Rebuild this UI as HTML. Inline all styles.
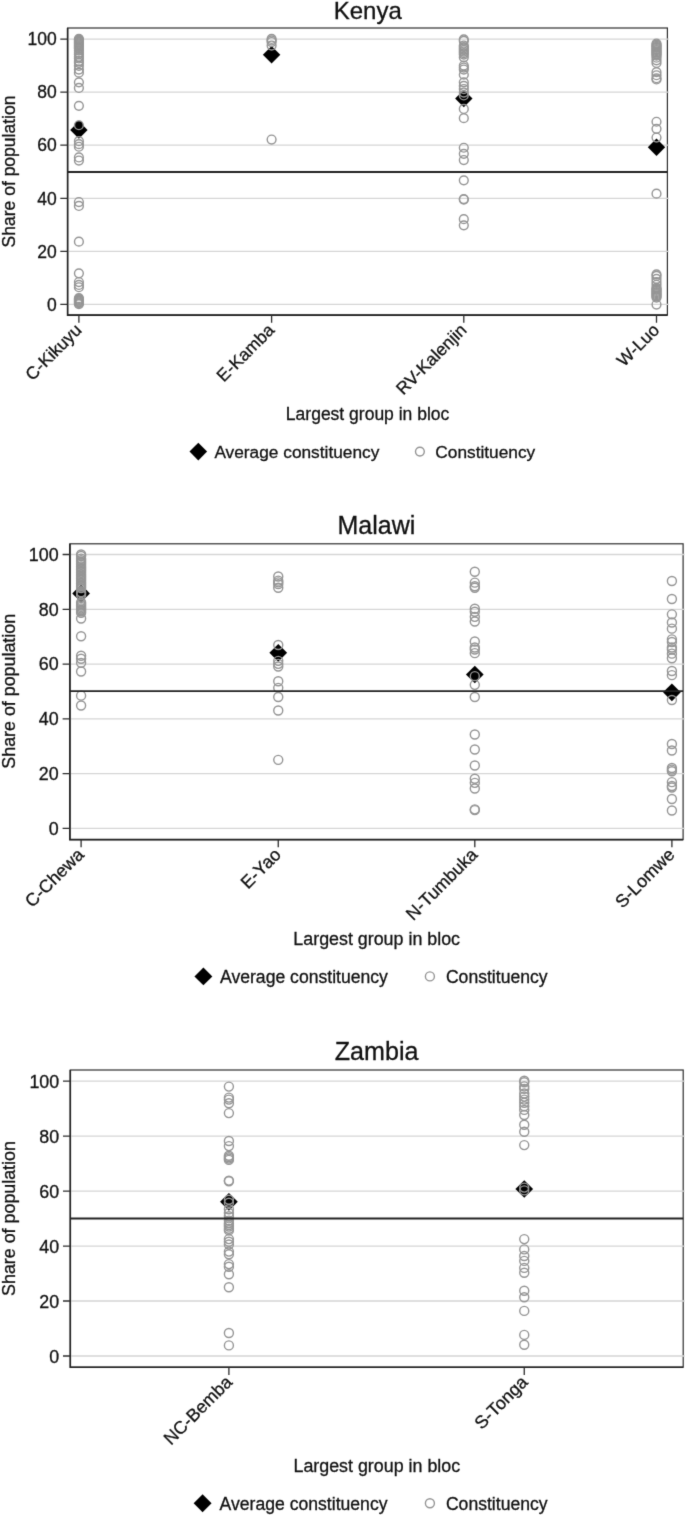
<!DOCTYPE html>
<html lang="en">
<head>
<meta charset="utf-8">
<title>Share of population by largest group in bloc</title>
<style>
html,body{margin:0;padding:0;background:#fff;}
body{width:685px;height:1515px;overflow:hidden;}
svg{display:block;}
text{white-space:pre;stroke:#111111;stroke-width:.3px;}
</style>
</head>
<body>
<svg width="685" height="1515" viewBox="0 0 685 1515" font-family="&quot;Liberation Sans&quot;, sans-serif" fill="#111111">
<rect width="685" height="1515" fill="#fff"/>
<defs><filter id="soft" x="0" y="0" width="100%" height="100%" filterUnits="userSpaceOnUse" color-interpolation-filters="sRGB"><feConvolveMatrix order="3" kernelMatrix="0.0183 0.1353 0.0183 0.1353 1.0000 0.1353 0.0183 0.1353 0.0183" edgeMode="duplicate" preserveAlpha="true"/></filter></defs>
<g filter="url(#soft)">
<rect width="685" height="1515" fill="#fff"/>
<g class="chart">
<text x="367.8" y="18.8" font-size="24" text-anchor="middle">Kenya</text>
<rect x="67.6" y="28.0" width="599.80" height="287.10" fill="none" stroke="#2e2e2e" stroke-width="1.2"/>
<path d="M68.60 304.40H668.90M68.60 251.34H668.90M68.60 198.28H668.90M68.60 145.22H668.90M68.60 92.16H668.90M68.60 39.10H668.90" stroke="#d5d5d5" stroke-width="1.3" fill="none"/>
<path d="M67.6 28.0V315.1H667.4" stroke="#222" stroke-width="1.6" fill="none"/>
<path d="M60.30 304.40H67.60M60.30 251.34H67.60M60.30 198.28H67.60M60.30 145.22H67.60M60.30 92.16H67.60M60.30 39.10H67.60M78.90 315.10V322.80M271.60 315.10V322.80M463.80 315.10V322.80M656.50 315.10V322.80" stroke="#2e2e2e" stroke-width="1.3" fill="none"/>
<text x="56.8" y="310.66" font-size="17.5" text-anchor="end">0</text>
<text x="56.8" y="257.60" font-size="17.5" text-anchor="end">20</text>
<text x="56.8" y="204.54" font-size="17.5" text-anchor="end">40</text>
<text x="56.8" y="151.48" font-size="17.5" text-anchor="end">60</text>
<text x="56.8" y="98.43" font-size="17.5" text-anchor="end">80</text>
<text x="56.8" y="45.37" font-size="17.5" text-anchor="end">100</text>
<text transform="translate(14.8 171.5) rotate(-90)" font-size="17.5" text-anchor="middle">Share of population</text>
<path d="M78.90 121.30L87.60 130.00L78.90 138.70L70.20 130.00Z" fill="#000"/>
<path d="M271.60 46.10L280.30 54.80L271.60 63.50L262.90 54.80Z" fill="#000"/>
<path d="M463.80 89.90L472.50 98.60L463.80 107.30L455.10 98.60Z" fill="#000"/>
<path d="M656.50 138.50L665.20 147.20L656.50 155.90L647.80 147.20Z" fill="#000"/>
<g stroke="#959595" stroke-width="1.4">
<circle cx="78.90" cy="38.95" r="4.4" fill="none"/>
<circle cx="78.90" cy="39.85" r="4.4" fill="none"/>
<circle cx="78.90" cy="40.75" r="4.4" fill="none"/>
<circle cx="78.90" cy="41.65" r="4.4" fill="none"/>
<circle cx="78.90" cy="42.55" r="4.4" fill="none"/>
<circle cx="78.90" cy="43.45" r="4.4" fill="none"/>
<circle cx="78.90" cy="44.35" r="4.4" fill="none"/>
<circle cx="78.90" cy="45.25" r="4.4" fill="none"/>
<circle cx="78.90" cy="46.15" r="4.4" fill="none"/>
<circle cx="78.90" cy="47.05" r="4.4" fill="none"/>
<circle cx="78.90" cy="47.95" r="4.4" fill="none"/>
<circle cx="78.90" cy="48.85" r="4.4" fill="none"/>
<circle cx="78.90" cy="50.65" r="4.4" fill="none"/>
<circle cx="78.90" cy="52.85" r="4.4" fill="none"/>
<circle cx="78.90" cy="54.45" r="4.4" fill="none"/>
<circle cx="78.90" cy="56.85" r="4.4" fill="none"/>
<circle cx="78.90" cy="58.45" r="4.4" fill="none"/>
<circle cx="78.90" cy="61.05" r="4.4" fill="none"/>
<circle cx="78.90" cy="62.85" r="4.4" fill="none"/>
<circle cx="78.90" cy="65.85" r="4.4" fill="none"/>
<circle cx="78.90" cy="69.55" r="4.4" fill="none"/>
<circle cx="78.90" cy="72.65" r="4.4" fill="none"/>
<circle cx="78.90" cy="82.35" r="4.4" fill="none"/>
<circle cx="78.90" cy="87.95" r="4.4" fill="none"/>
<circle cx="78.90" cy="105.85" r="4.4" fill="none"/>
<circle cx="78.90" cy="141.15" r="4.4" fill="none"/>
<circle cx="78.90" cy="144.15" r="4.4" fill="none"/>
<circle cx="78.90" cy="146.75" r="4.4" fill="none"/>
<circle cx="78.90" cy="157.45" r="4.4" fill="none"/>
<circle cx="78.90" cy="160.55" r="4.4" fill="none"/>
<circle cx="78.90" cy="202.05" r="4.4" fill="none"/>
<circle cx="78.90" cy="205.95" r="4.4" fill="none"/>
<circle cx="78.90" cy="241.65" r="4.4" fill="none"/>
<circle cx="78.90" cy="273.35" r="4.4" fill="none"/>
<circle cx="78.90" cy="282.05" r="4.4" fill="none"/>
<circle cx="78.90" cy="284.95" r="4.4" fill="none"/>
<circle cx="78.90" cy="287.25" r="4.4" fill="none"/>
<circle cx="78.90" cy="298.15" r="4.4" fill="none"/>
<circle cx="78.90" cy="299.00" r="4.4" fill="none"/>
<circle cx="78.90" cy="299.85" r="4.4" fill="none"/>
<circle cx="78.90" cy="300.70" r="4.4" fill="none"/>
<circle cx="78.90" cy="301.55" r="4.4" fill="none"/>
<circle cx="78.90" cy="302.40" r="4.4" fill="none"/>
<circle cx="78.90" cy="303.25" r="4.4" fill="none"/>
<circle cx="78.90" cy="304.10" r="4.4" fill="none"/>
<circle cx="271.60" cy="38.95" r="4.4" fill="none"/>
<circle cx="271.60" cy="40.45" r="4.4" fill="none"/>
<circle cx="271.60" cy="42.05" r="4.4" fill="none"/>
<circle cx="271.60" cy="45.55" r="4.4" fill="none"/>
<circle cx="271.60" cy="139.55" r="4.4" fill="none"/>
<circle cx="463.80" cy="39.45" r="4.4" fill="none"/>
<circle cx="463.80" cy="40.95" r="4.4" fill="none"/>
<circle cx="463.80" cy="45.55" r="4.4" fill="none"/>
<circle cx="463.80" cy="47.05" r="4.4" fill="none"/>
<circle cx="463.80" cy="48.55" r="4.4" fill="none"/>
<circle cx="463.80" cy="50.05" r="4.4" fill="none"/>
<circle cx="463.80" cy="51.55" r="4.4" fill="none"/>
<circle cx="463.80" cy="53.05" r="4.4" fill="none"/>
<circle cx="463.80" cy="54.55" r="4.4" fill="none"/>
<circle cx="463.80" cy="57.35" r="4.4" fill="none"/>
<circle cx="463.80" cy="65.55" r="4.4" fill="none"/>
<circle cx="463.80" cy="67.55" r="4.4" fill="none"/>
<circle cx="463.80" cy="69.55" r="4.4" fill="none"/>
<circle cx="463.80" cy="74.75" r="4.4" fill="none"/>
<circle cx="463.80" cy="82.35" r="4.4" fill="none"/>
<circle cx="463.80" cy="85.95" r="4.4" fill="none"/>
<circle cx="463.80" cy="89.05" r="4.4" fill="none"/>
<circle cx="463.80" cy="92.55" r="4.4" fill="none"/>
<circle cx="463.80" cy="95.45" r="4.4" fill="none"/>
<circle cx="463.80" cy="108.95" r="4.4" fill="none"/>
<circle cx="463.80" cy="118.15" r="4.4" fill="none"/>
<circle cx="463.80" cy="147.75" r="4.4" fill="none"/>
<circle cx="463.80" cy="153.85" r="4.4" fill="none"/>
<circle cx="463.80" cy="160.05" r="4.4" fill="none"/>
<circle cx="463.80" cy="180.35" r="4.4" fill="none"/>
<circle cx="463.80" cy="199.05" r="4.4" fill="none"/>
<circle cx="463.80" cy="199.55" r="4.4" fill="none"/>
<circle cx="463.80" cy="219.15" r="4.4" fill="none"/>
<circle cx="463.80" cy="225.35" r="4.4" fill="none"/>
<circle cx="656.50" cy="43.55" r="4.4" fill="none"/>
<circle cx="656.50" cy="44.65" r="4.4" fill="none"/>
<circle cx="656.50" cy="45.75" r="4.4" fill="none"/>
<circle cx="656.50" cy="46.85" r="4.4" fill="none"/>
<circle cx="656.50" cy="47.95" r="4.4" fill="none"/>
<circle cx="656.50" cy="49.05" r="4.4" fill="none"/>
<circle cx="656.50" cy="50.15" r="4.4" fill="none"/>
<circle cx="656.50" cy="51.25" r="4.4" fill="none"/>
<circle cx="656.50" cy="52.35" r="4.4" fill="none"/>
<circle cx="656.50" cy="53.45" r="4.4" fill="none"/>
<circle cx="656.50" cy="54.55" r="4.4" fill="none"/>
<circle cx="656.50" cy="55.65" r="4.4" fill="none"/>
<circle cx="656.50" cy="57.75" r="4.4" fill="none"/>
<circle cx="656.50" cy="60.35" r="4.4" fill="none"/>
<circle cx="656.50" cy="62.95" r="4.4" fill="none"/>
<circle cx="656.50" cy="72.15" r="4.4" fill="none"/>
<circle cx="656.50" cy="75.25" r="4.4" fill="none"/>
<circle cx="656.50" cy="78.25" r="4.4" fill="none"/>
<circle cx="656.50" cy="79.45" r="4.4" fill="none"/>
<circle cx="656.50" cy="121.75" r="4.4" fill="none"/>
<circle cx="656.50" cy="128.85" r="4.4" fill="none"/>
<circle cx="656.50" cy="137.55" r="4.4" fill="none"/>
<circle cx="656.50" cy="193.65" r="4.4" fill="none"/>
<circle cx="656.50" cy="274.35" r="4.4" fill="none"/>
<circle cx="656.50" cy="275.95" r="4.4" fill="none"/>
<circle cx="656.50" cy="278.95" r="4.4" fill="none"/>
<circle cx="656.50" cy="282.05" r="4.4" fill="none"/>
<circle cx="656.50" cy="284.75" r="4.4" fill="none"/>
<circle cx="656.50" cy="287.65" r="4.4" fill="none"/>
<circle cx="656.50" cy="288.75" r="4.4" fill="none"/>
<circle cx="656.50" cy="289.85" r="4.4" fill="none"/>
<circle cx="656.50" cy="290.95" r="4.4" fill="none"/>
<circle cx="656.50" cy="292.05" r="4.4" fill="none"/>
<circle cx="656.50" cy="293.15" r="4.4" fill="none"/>
<circle cx="656.50" cy="294.25" r="4.4" fill="none"/>
<circle cx="656.50" cy="295.35" r="4.4" fill="none"/>
<circle cx="656.50" cy="296.45" r="4.4" fill="none"/>
<circle cx="656.50" cy="297.55" r="4.4" fill="none"/>
<circle cx="656.50" cy="304.55" r="4.4" fill="none"/>
</g>
<path d="M67.6 172.00H667.4" stroke="#222" stroke-width="1.9" fill="none"/>
<g stroke="#959595" stroke-width="1.4">
<circle cx="78.90" cy="125.25" r="4.4" fill="#000"/>
</g>
<text transform="translate(82.70 331.20) rotate(-45)" font-size="17.5" text-anchor="end">C-Kikuyu</text>
<text transform="translate(275.40 331.20) rotate(-45)" font-size="17.5" text-anchor="end">E-Kamba</text>
<text transform="translate(467.60 331.20) rotate(-45)" font-size="17.5" text-anchor="end">RV-Kalenjin</text>
<text transform="translate(660.30 331.20) rotate(-45)" font-size="17.5" text-anchor="end">W-Luo</text>
<text x="367.6" y="420.4" font-size="17.5" text-anchor="middle">Largest group in bloc</text>
<path d="M198.30 442.80L207.10 451.60L198.30 460.40L189.50 451.60Z" fill="#000"/>
<text x="214.4" y="458.0" font-size="17.3">Average constituency</text>
<circle cx="419.9" cy="451.6" r="4.4" fill="none" stroke="#959595" stroke-width="1.4"/>
<text x="435.3" y="458.0" font-size="17.3">Constituency</text>
</g>
<g class="chart">
<text x="376.4" y="533.6" font-size="25.0" text-anchor="middle">Malawi</text>
<rect x="69.9" y="543.8" width="613.20" height="295.80" fill="none" stroke="#2e2e2e" stroke-width="1.2"/>
<path d="M70.90 828.40H684.60M70.90 773.62H684.60M70.90 718.84H684.60M70.90 664.06H684.60M70.90 609.28H684.60M70.90 554.50H684.60" stroke="#d5d5d5" stroke-width="1.3" fill="none"/>
<path d="M69.9 543.8V839.6H683.1" stroke="#222" stroke-width="1.6" fill="none"/>
<path d="M62.60 828.40H69.90M62.60 773.62H69.90M62.60 718.84H69.90M62.60 664.06H69.90M62.60 609.28H69.90M62.60 554.50H69.90M81.10 839.60V847.30M278.25 839.60V847.30M474.80 839.60V847.30M671.90 839.60V847.30" stroke="#2e2e2e" stroke-width="1.3" fill="none"/>
<text x="58.6" y="834.79" font-size="17.85" text-anchor="end">0</text>
<text x="58.6" y="780.01" font-size="17.85" text-anchor="end">20</text>
<text x="58.6" y="725.23" font-size="17.85" text-anchor="end">40</text>
<text x="58.6" y="670.45" font-size="17.85" text-anchor="end">60</text>
<text x="58.6" y="615.67" font-size="17.85" text-anchor="end">80</text>
<text x="58.6" y="560.89" font-size="17.85" text-anchor="end">100</text>
<text transform="translate(15.2 691.3) rotate(-90)" font-size="17.85" text-anchor="middle">Share of population</text>
<path d="M81.10 584.55L89.95 593.40L81.10 602.25L72.25 593.40Z" fill="#000"/>
<path d="M278.25 643.95L287.10 652.80L278.25 661.65L269.40 652.80Z" fill="#000"/>
<path d="M474.80 665.65L483.65 674.50L474.80 683.35L465.95 674.50Z" fill="#000"/>
<path d="M671.90 683.45L680.75 692.30L671.90 701.15L663.05 692.30Z" fill="#000"/>
<g stroke="#959595" stroke-width="1.4">
<circle cx="81.10" cy="554.55" r="4.5" fill="none"/>
<circle cx="81.10" cy="556.05" r="4.5" fill="none"/>
<circle cx="81.10" cy="558.65" r="4.5" fill="none"/>
<circle cx="81.10" cy="560.20" r="4.5" fill="none"/>
<circle cx="81.10" cy="561.75" r="4.5" fill="none"/>
<circle cx="81.10" cy="563.30" r="4.5" fill="none"/>
<circle cx="81.10" cy="564.85" r="4.5" fill="none"/>
<circle cx="81.10" cy="566.40" r="4.5" fill="none"/>
<circle cx="81.10" cy="567.95" r="4.5" fill="none"/>
<circle cx="81.10" cy="569.50" r="4.5" fill="none"/>
<circle cx="81.10" cy="571.05" r="4.5" fill="none"/>
<circle cx="81.10" cy="572.60" r="4.5" fill="none"/>
<circle cx="81.10" cy="574.15" r="4.5" fill="none"/>
<circle cx="81.10" cy="575.70" r="4.5" fill="none"/>
<circle cx="81.10" cy="577.25" r="4.5" fill="none"/>
<circle cx="81.10" cy="578.80" r="4.5" fill="none"/>
<circle cx="81.10" cy="580.35" r="4.5" fill="none"/>
<circle cx="81.10" cy="581.90" r="4.5" fill="none"/>
<circle cx="81.10" cy="583.45" r="4.5" fill="none"/>
<circle cx="81.10" cy="585.00" r="4.5" fill="none"/>
<circle cx="81.10" cy="586.55" r="4.5" fill="none"/>
<circle cx="81.10" cy="588.10" r="4.5" fill="none"/>
<circle cx="81.10" cy="592.15" r="4.5" fill="none"/>
<circle cx="81.10" cy="593.15" r="4.5" fill="none"/>
<circle cx="81.10" cy="594.95" r="4.5" fill="none"/>
<circle cx="81.10" cy="602.55" r="4.5" fill="none"/>
<circle cx="81.10" cy="604.00" r="4.5" fill="none"/>
<circle cx="81.10" cy="605.45" r="4.5" fill="none"/>
<circle cx="81.10" cy="606.90" r="4.5" fill="none"/>
<circle cx="81.10" cy="608.35" r="4.5" fill="none"/>
<circle cx="81.10" cy="609.80" r="4.5" fill="none"/>
<circle cx="81.10" cy="611.25" r="4.5" fill="none"/>
<circle cx="81.10" cy="612.70" r="4.5" fill="none"/>
<circle cx="81.10" cy="618.45" r="4.5" fill="none"/>
<circle cx="81.10" cy="636.25" r="4.5" fill="none"/>
<circle cx="81.10" cy="655.75" r="4.5" fill="none"/>
<circle cx="81.10" cy="658.75" r="4.5" fill="none"/>
<circle cx="81.10" cy="662.85" r="4.5" fill="none"/>
<circle cx="81.10" cy="671.55" r="4.5" fill="none"/>
<circle cx="81.10" cy="695.65" r="4.5" fill="none"/>
<circle cx="81.10" cy="705.55" r="4.5" fill="none"/>
<circle cx="278.25" cy="576.55" r="4.5" fill="none"/>
<circle cx="278.25" cy="580.65" r="4.5" fill="none"/>
<circle cx="278.25" cy="582.35" r="4.5" fill="none"/>
<circle cx="278.25" cy="584.15" r="4.5" fill="none"/>
<circle cx="278.25" cy="587.75" r="4.5" fill="none"/>
<circle cx="278.25" cy="644.95" r="4.5" fill="none"/>
<circle cx="278.25" cy="660.85" r="4.5" fill="none"/>
<circle cx="278.25" cy="663.85" r="4.5" fill="none"/>
<circle cx="278.25" cy="666.45" r="4.5" fill="none"/>
<circle cx="278.25" cy="681.25" r="4.5" fill="none"/>
<circle cx="278.25" cy="687.85" r="4.5" fill="none"/>
<circle cx="278.25" cy="696.95" r="4.5" fill="none"/>
<circle cx="278.25" cy="710.55" r="4.5" fill="none"/>
<circle cx="278.25" cy="759.85" r="4.5" fill="none"/>
<circle cx="474.80" cy="571.75" r="4.5" fill="none"/>
<circle cx="474.80" cy="582.65" r="4.5" fill="none"/>
<circle cx="474.80" cy="586.25" r="4.5" fill="none"/>
<circle cx="474.80" cy="587.75" r="4.5" fill="none"/>
<circle cx="474.80" cy="608.75" r="4.5" fill="none"/>
<circle cx="474.80" cy="611.75" r="4.5" fill="none"/>
<circle cx="474.80" cy="616.85" r="4.5" fill="none"/>
<circle cx="474.80" cy="621.45" r="4.5" fill="none"/>
<circle cx="474.80" cy="641.45" r="4.5" fill="none"/>
<circle cx="474.80" cy="647.55" r="4.5" fill="none"/>
<circle cx="474.80" cy="649.55" r="4.5" fill="none"/>
<circle cx="474.80" cy="653.15" r="4.5" fill="none"/>
<circle cx="474.80" cy="676.15" r="4.5" fill="none"/>
<circle cx="474.80" cy="684.85" r="4.5" fill="none"/>
<circle cx="474.80" cy="696.95" r="4.5" fill="none"/>
<circle cx="474.80" cy="734.45" r="4.5" fill="none"/>
<circle cx="474.80" cy="749.45" r="4.5" fill="none"/>
<circle cx="474.80" cy="765.45" r="4.5" fill="none"/>
<circle cx="474.80" cy="778.75" r="4.5" fill="none"/>
<circle cx="474.80" cy="782.85" r="4.5" fill="none"/>
<circle cx="474.80" cy="788.45" r="4.5" fill="none"/>
<circle cx="474.80" cy="809.35" r="4.5" fill="none"/>
<circle cx="474.80" cy="810.15" r="4.5" fill="none"/>
<circle cx="671.90" cy="580.95" r="4.5" fill="none"/>
<circle cx="671.90" cy="598.95" r="4.5" fill="none"/>
<circle cx="671.90" cy="614.35" r="4.5" fill="none"/>
<circle cx="671.90" cy="622.55" r="4.5" fill="none"/>
<circle cx="671.90" cy="628.65" r="4.5" fill="none"/>
<circle cx="671.90" cy="639.35" r="4.5" fill="none"/>
<circle cx="671.90" cy="641.95" r="4.5" fill="none"/>
<circle cx="671.90" cy="647.55" r="4.5" fill="none"/>
<circle cx="671.90" cy="649.55" r="4.5" fill="none"/>
<circle cx="671.90" cy="653.65" r="4.5" fill="none"/>
<circle cx="671.90" cy="658.25" r="4.5" fill="none"/>
<circle cx="671.90" cy="671.05" r="4.5" fill="none"/>
<circle cx="671.90" cy="675.15" r="4.5" fill="none"/>
<circle cx="671.90" cy="699.95" r="4.5" fill="none"/>
<circle cx="671.90" cy="744.05" r="4.5" fill="none"/>
<circle cx="671.90" cy="750.55" r="4.5" fill="none"/>
<circle cx="671.90" cy="767.95" r="4.5" fill="none"/>
<circle cx="671.90" cy="769.65" r="4.5" fill="none"/>
<circle cx="671.90" cy="771.25" r="4.5" fill="none"/>
<circle cx="671.90" cy="782.15" r="4.5" fill="none"/>
<circle cx="671.90" cy="785.95" r="4.5" fill="none"/>
<circle cx="671.90" cy="787.55" r="4.5" fill="none"/>
<circle cx="671.90" cy="799.05" r="4.5" fill="none"/>
<circle cx="671.90" cy="810.45" r="4.5" fill="none"/>
</g>
<path d="M69.9 691.10H683.1" stroke="#222" stroke-width="1.9" fill="none"/>
<g stroke="#959595" stroke-width="1.4">
</g>
<text transform="translate(84.90 855.70) rotate(-45)" font-size="17.85" text-anchor="end">C-Chewa</text>
<text transform="translate(282.05 855.70) rotate(-45)" font-size="17.85" text-anchor="end">E-Yao</text>
<text transform="translate(478.60 855.70) rotate(-45)" font-size="17.85" text-anchor="end">N-Tumbuka</text>
<text transform="translate(675.70 855.70) rotate(-45)" font-size="17.85" text-anchor="end">S-Lomwe</text>
<text x="376.7" y="944.8" font-size="17.85" text-anchor="middle">Largest group in bloc</text>
<path d="M203.40 967.45L212.35 976.40L203.40 985.35L194.45 976.40Z" fill="#000"/>
<text x="220.0" y="982.8" font-size="17.6">Average constituency</text>
<circle cx="429.9" cy="976.4" r="4.5" fill="none" stroke="#959595" stroke-width="1.4"/>
<text x="445.9" y="982.8" font-size="17.6">Constituency</text>
</g>
<g class="chart">
<text x="376.6" y="1060.0" font-size="25.1" text-anchor="middle">Zambia</text>
<rect x="70.3" y="1070.0" width="612.90" height="297.20" fill="none" stroke="#2e2e2e" stroke-width="1.2"/>
<path d="M71.30 1356.00H684.70M71.30 1301.02H684.70M71.30 1246.04H684.70M71.30 1191.06H684.70M71.30 1136.08H684.70M71.30 1081.10H684.70" stroke="#d5d5d5" stroke-width="1.3" fill="none"/>
<path d="M70.3 1070.0V1367.2H683.2" stroke="#222" stroke-width="1.6" fill="none"/>
<path d="M63.00 1356.00H70.30M63.00 1301.02H70.30M63.00 1246.04H70.30M63.00 1191.06H70.30M63.00 1136.08H70.30M63.00 1081.10H70.30M228.90 1367.20V1374.90M524.25 1367.20V1374.90" stroke="#2e2e2e" stroke-width="1.3" fill="none"/>
<text x="59.2" y="1362.89" font-size="17.85" text-anchor="end">0</text>
<text x="59.2" y="1307.91" font-size="17.85" text-anchor="end">20</text>
<text x="59.2" y="1252.93" font-size="17.85" text-anchor="end">40</text>
<text x="59.2" y="1197.95" font-size="17.85" text-anchor="end">60</text>
<text x="59.2" y="1142.97" font-size="17.85" text-anchor="end">80</text>
<text x="59.2" y="1087.99" font-size="17.85" text-anchor="end">100</text>
<text transform="translate(15.2 1218.5) rotate(-90)" font-size="17.85" text-anchor="middle">Share of population</text>
<path d="M228.90 1192.95L237.75 1201.80L228.90 1210.65L220.05 1201.80Z" fill="#000"/>
<path d="M524.25 1180.15L533.10 1189.00L524.25 1197.85L515.40 1189.00Z" fill="#000"/>
<g stroke="#959595" stroke-width="1.4">
<circle cx="228.90" cy="1086.60" r="4.5" fill="none"/>
<circle cx="228.90" cy="1097.60" r="4.5" fill="none"/>
<circle cx="228.90" cy="1099.60" r="4.5" fill="none"/>
<circle cx="228.90" cy="1103.20" r="4.5" fill="none"/>
<circle cx="228.90" cy="1113.10" r="4.5" fill="none"/>
<circle cx="228.90" cy="1141.00" r="4.5" fill="none"/>
<circle cx="228.90" cy="1146.10" r="4.5" fill="none"/>
<circle cx="228.90" cy="1155.80" r="4.5" fill="none"/>
<circle cx="228.90" cy="1157.20" r="4.5" fill="none"/>
<circle cx="228.90" cy="1158.60" r="4.5" fill="none"/>
<circle cx="228.90" cy="1159.90" r="4.5" fill="none"/>
<circle cx="228.90" cy="1180.60" r="4.5" fill="none"/>
<circle cx="228.90" cy="1181.20" r="4.5" fill="none"/>
<circle cx="228.90" cy="1199.80" r="4.5" fill="none"/>
<circle cx="228.90" cy="1202.80" r="4.5" fill="none"/>
<circle cx="228.90" cy="1209.20" r="4.5" fill="none"/>
<circle cx="228.90" cy="1213.00" r="4.5" fill="none"/>
<circle cx="228.90" cy="1216.20" r="4.5" fill="none"/>
<circle cx="228.90" cy="1220.60" r="4.5" fill="none"/>
<circle cx="228.90" cy="1223.30" r="4.5" fill="none"/>
<circle cx="228.90" cy="1225.00" r="4.5" fill="none"/>
<circle cx="228.90" cy="1226.60" r="4.5" fill="none"/>
<circle cx="228.90" cy="1228.70" r="4.5" fill="none"/>
<circle cx="228.90" cy="1230.40" r="4.5" fill="none"/>
<circle cx="228.90" cy="1239.10" r="4.5" fill="none"/>
<circle cx="228.90" cy="1241.80" r="4.5" fill="none"/>
<circle cx="228.90" cy="1244.50" r="4.5" fill="none"/>
<circle cx="228.90" cy="1251.60" r="4.5" fill="none"/>
<circle cx="228.90" cy="1254.30" r="4.5" fill="none"/>
<circle cx="228.90" cy="1264.10" r="4.5" fill="none"/>
<circle cx="228.90" cy="1266.80" r="4.5" fill="none"/>
<circle cx="228.90" cy="1274.30" r="4.5" fill="none"/>
<circle cx="228.90" cy="1287.30" r="4.5" fill="none"/>
<circle cx="228.90" cy="1333.00" r="4.5" fill="none"/>
<circle cx="228.90" cy="1345.40" r="4.5" fill="none"/>
<circle cx="524.25" cy="1080.70" r="4.5" fill="none"/>
<circle cx="524.25" cy="1082.30" r="4.5" fill="none"/>
<circle cx="524.25" cy="1086.40" r="4.5" fill="none"/>
<circle cx="524.25" cy="1088.90" r="4.5" fill="none"/>
<circle cx="524.25" cy="1093.50" r="4.5" fill="none"/>
<circle cx="524.25" cy="1096.60" r="4.5" fill="none"/>
<circle cx="524.25" cy="1099.60" r="4.5" fill="none"/>
<circle cx="524.25" cy="1102.70" r="4.5" fill="none"/>
<circle cx="524.25" cy="1106.30" r="4.5" fill="none"/>
<circle cx="524.25" cy="1109.90" r="4.5" fill="none"/>
<circle cx="524.25" cy="1115.00" r="4.5" fill="none"/>
<circle cx="524.25" cy="1124.70" r="4.5" fill="none"/>
<circle cx="524.25" cy="1131.80" r="4.5" fill="none"/>
<circle cx="524.25" cy="1145.10" r="4.5" fill="none"/>
<circle cx="524.25" cy="1187.60" r="4.5" fill="none"/>
<circle cx="524.25" cy="1190.40" r="4.5" fill="none"/>
<circle cx="524.25" cy="1239.10" r="4.5" fill="none"/>
<circle cx="524.25" cy="1249.40" r="4.5" fill="none"/>
<circle cx="524.25" cy="1256.00" r="4.5" fill="none"/>
<circle cx="524.25" cy="1260.90" r="4.5" fill="none"/>
<circle cx="524.25" cy="1267.90" r="4.5" fill="none"/>
<circle cx="524.25" cy="1272.80" r="4.5" fill="none"/>
<circle cx="524.25" cy="1290.80" r="4.5" fill="none"/>
<circle cx="524.25" cy="1297.30" r="4.5" fill="none"/>
<circle cx="524.25" cy="1310.90" r="4.5" fill="none"/>
<circle cx="524.25" cy="1334.90" r="4.5" fill="none"/>
<circle cx="524.25" cy="1344.70" r="4.5" fill="none"/>
</g>
<path d="M70.3 1218.50H683.2" stroke="#222" stroke-width="1.9" fill="none"/>
<g stroke="#959595" stroke-width="1.4">
</g>
<text transform="translate(233.40 1383.30) rotate(-45)" font-size="17.85" text-anchor="end">NC-Bemba</text>
<text transform="translate(528.75 1383.30) rotate(-45)" font-size="17.85" text-anchor="end">S-Tonga</text>
<text x="376.8" y="1472.3" font-size="17.85" text-anchor="middle">Largest group in bloc</text>
<path d="M202.60 1494.35L211.55 1503.30L202.60 1512.25L193.65 1503.30Z" fill="#000"/>
<text x="219.6" y="1509.6" font-size="17.6">Average constituency</text>
<circle cx="429.9" cy="1503.3" r="4.5" fill="none" stroke="#959595" stroke-width="1.4"/>
<text x="445.9" y="1509.6" font-size="17.6">Constituency</text>
</g>
</g>
</svg>
</body>
</html>
